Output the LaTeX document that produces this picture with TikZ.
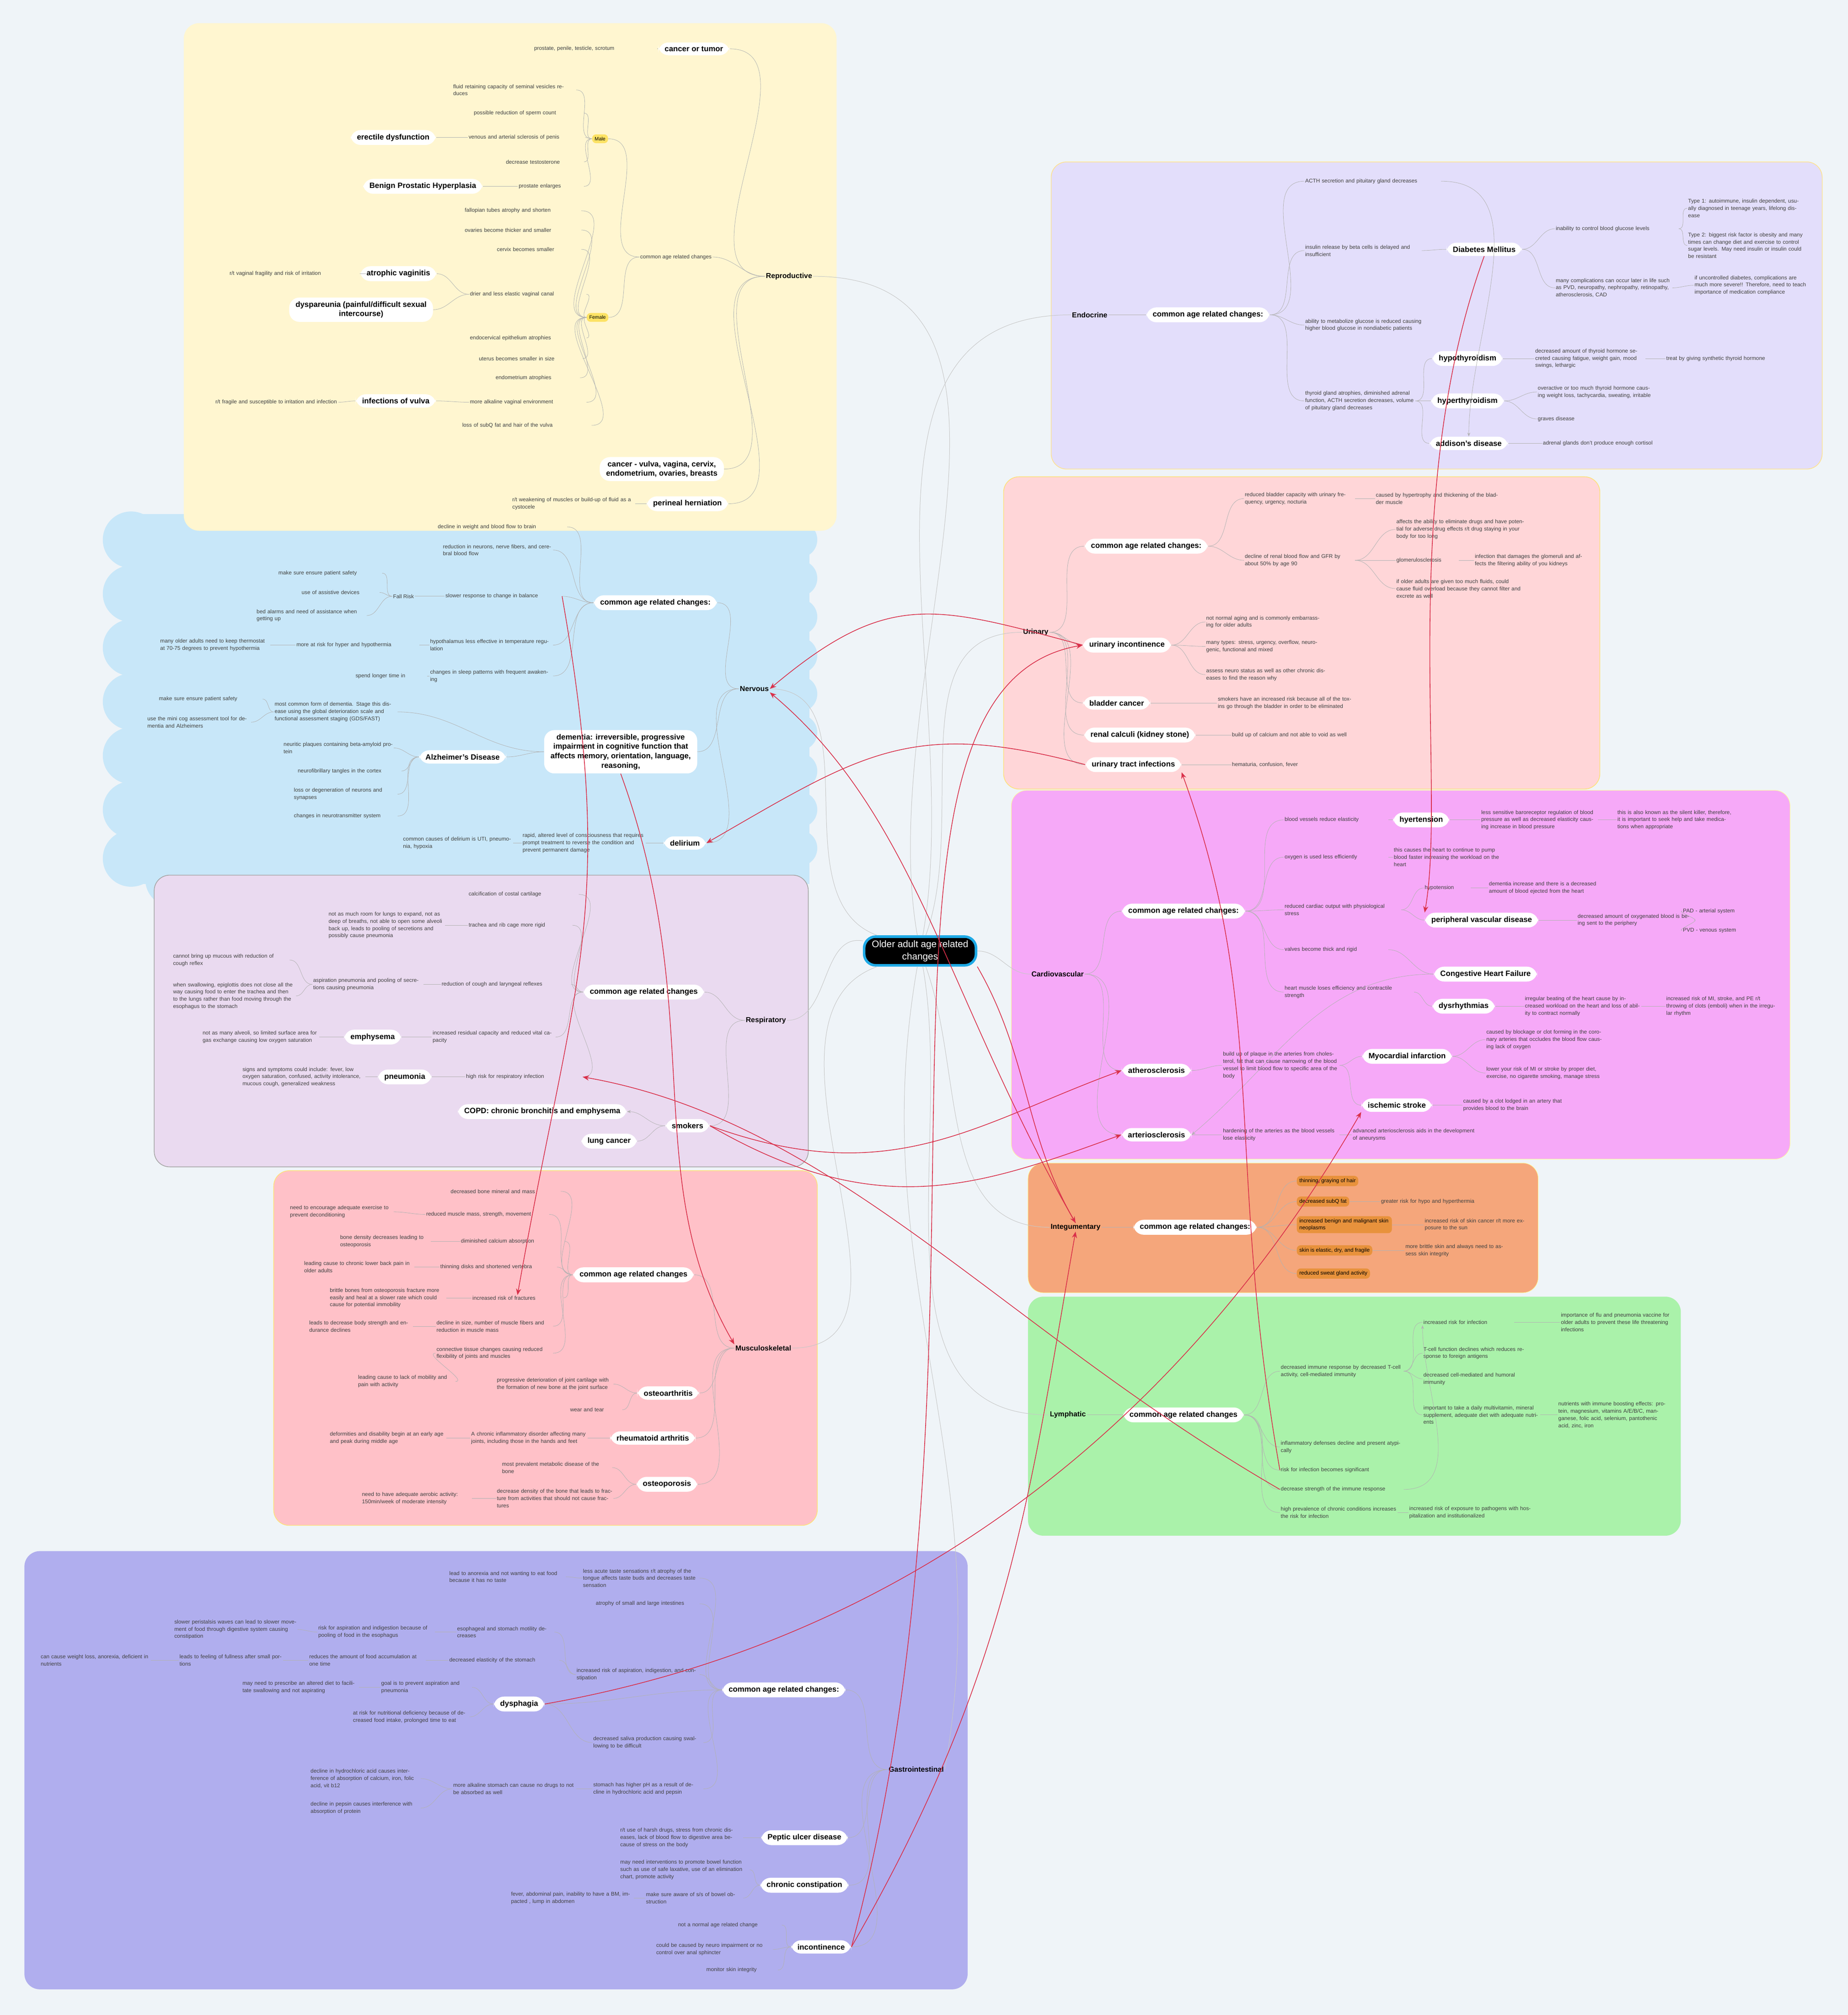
\documentclass[tikz,border=0pt]{standalone}
\usepackage{fontspec}
\setmainfont{Liberation Sans}
\usetikzlibrary{arrows.meta}
\definecolor{bg}{HTML}{EFF4F8}
\definecolor{repro}{HTML}{FFF6D0}
\definecolor{endo}{HTML}{E3DEFB}
\definecolor{uri}{HTML}{FFD6D8}
\definecolor{nerv}{HTML}{C8E7F9}
\definecolor{cardio}{HTML}{F6A9F8}
\definecolor{resp}{HTML}{EADAF0}
\definecolor{integ}{HTML}{F5A67B}
\definecolor{musc}{HTML}{FFC1C8}
\definecolor{lymph}{HTML}{AAF2AA}
\definecolor{gi}{HTML}{B0AEEE}
\definecolor{xred}{HTML}{D9304A}
\definecolor{orpill}{HTML}{E8923C}
\tikzset{
 leaf/.style={font=\fontsize{6}{8}\selectfont,text=black!75,align=left,inner sep=0.8pt},
 pill/.style={fill=white,rounded corners=4mm,font=\fontsize{8.5}{10.5}\selectfont\bfseries,inner xsep=2.5mm,inner ysep=1.5mm,align=center},
 sys/.style={font=\fontsize{8}{10}\selectfont\bfseries,inner sep=1pt},
 tree/.style={draw=black!30,line width=0.4pt},
 hub/.style={draw=black!22,line width=0.5pt},
 xlink/.style={draw=xred,line width=0.8pt,-{Stealth[length=2.5mm,width=2mm]}},
 ypill/.style={fill=yellow!70!orange!60,rounded corners=1.5mm,font=\fontsize{5.5}{6.5}\selectfont,inner sep=1mm},
 opill/.style={fill=orpill,rounded corners=1.5mm,font=\fontsize{6}{7.5}\selectfont,align=left,inner sep=1mm,anchor=west},
}
\newcommand\lfR[5]{\node[leaf,text width=\dimexpr #3mm/2\relax,anchor=west] (#1) at (#2) {#5}; \draw[tree] (#4.east) to[out=0,in=180] (#1.west);}
\newcommand\lfL[5]{\node[leaf,text width=\dimexpr #3mm/2\relax,anchor=west] (#1) at (#2) {#5}; \draw[tree] (#4.west) to[out=180,in=0] (#1.east);}
\begin{document}
\begin{tikzpicture}[x=0.5mm,y=-0.5mm]
\useasboundingbox (0,0) rectangle (1438,1568);
\fill[bg] (0,0) rectangle (1438,1568);
% regions
\fill[nerv] (100,400) rectangle (630,688);
\foreach \yy in {420,462,504,546,588,630,668} \fill[nerv] (102,\yy) circle (11mm);
\foreach \xx in {135,175,215,255,295,335,375,415,455,495,535,575,605} \fill[nerv] (\xx,684) circle (11mm);
\foreach \yy in {420,450,480,510,540,570,600,630,660} \fill[nerv] (622,\yy) circle (7mm);
\fill[repro,rounded corners=6mm] (143,18) rectangle (651,413);
\filldraw[fill=endo,draw=yellow!50!orange!40,line width=0.8pt,rounded corners=6mm] (818,126) rectangle (1418,365);
\filldraw[fill=uri,draw=yellow!60!orange!50,line width=0.8pt,rounded corners=6mm] (781,371) rectangle (1245,614);
\filldraw[fill=cardio,draw=yellow!40,line width=0.5pt,rounded corners=6mm] (787,615) rectangle (1393,902);
\filldraw[fill=resp,draw=black!35,line width=0.8pt,rounded corners=6mm] (120,681) rectangle (629,908);
\filldraw[fill=integ,draw=yellow!40,line width=0.5pt,rounded corners=6mm] (800,905) rectangle (1197,1006);
\filldraw[fill=musc,draw=yellow!60!orange!50,line width=0.8pt,rounded corners=6mm] (213,911) rectangle (636,1187);
\fill[lymph,rounded corners=6mm] (800,1009) rectangle (1308,1195);
\fill[gi,rounded corners=6mm] (19,1207) rectangle (753,1548);
% center
\node[fill=black,draw={rgb,255:red,30;green,170;blue,230},line width=1mm,rounded corners=4.5mm,text=white,font=\fontsize{10.5}{13.5}\selectfont,align=center,inner xsep=3mm,inner ysep=1.5mm] (center) at (716,740) {Older adult age related\\changes};
\node[sys] (repro) at (614,215) {Reproductive};
\node[sys] (endo) at (848,245) {Endocrine};
\node[sys] (uri) at (806,492) {Urinary};
\node[sys] (nerv) at (587,536) {Nervous};
\node[sys] (resp) at (596,794) {Respiratory};
\node[sys] (cardio) at (823,758) {Cardiovascular};
\node[sys] (integ) at (837,955) {Integumentary};
\node[sys] (musc) at (594,1049) {Musculoskeletal};
\node[sys] (lymph) at (831,1101) {Lymphatic};
\node[sys] (gi) at (713,1377) {Gastrointestinal};
\foreach \sa/\oa/\ia in {repro/100/0,nerv/160/0,resp/170/0,musc/200/0,gi/260/80}
  \draw[hub] (center) to[out=\oa,in=\ia] (\sa.east);
\foreach \sa/\oa/\ia in {endo/80/180,uri/70/180,cardio/0/180,integ/-70/180,lymph/-80/180}
  \draw[hub] (center) to[out=\oa,in=\ia] (\sa.west);
% ===== Reproductive
\node[pill] (rca) at (540,38) {cancer or tumor};
\draw[tree] (repro.west) to[out=180,in=0] (rca.east);
\lfL{rca1}{415,38}{95}{rca}{prostate, penile, testicle, scrotum}
\node[leaf] (rcac) at (526,200) {common age related changes};
\draw[tree] (repro.west) to[out=180,in=0] (rcac.east);
\node[ypill] (male) at (467,108) {Male};
\node[ypill] (female) at (465,247) {Female};
\draw[tree] (rcac.west) to[out=180,in=0] (male.east);
\draw[tree] (rcac.west) to[out=180,in=0] (female.east);
\lfL{m1}{352,70}{95}{male}{fluid retaining capacity of seminal vesicles reduces}
\lfL{m2}{368,88}{85}{male}{possible reduction of sperm count}
\lfL{m3}{364,107}{90}{male}{venous and arterial sclerosis of penis}
\lfL{m4}{393,126}{60}{male}{decrease testosterone}
\lfL{m5}{403,145}{50}{male}{prostate enlarges}
\node[pill] (ed) at (306,107) {erectile dysfunction};
\draw[tree] (m3.west) to[out=180,in=0] (ed.east);
\node[pill] (bph) at (329,145) {Benign Prostatic Hyperplasia};
\draw[tree] (m5.west) to[out=180,in=0] (bph.east);
\lfL{f1}{361,164}{90}{female}{fallopian tubes atrophy and shorten}
\lfL{f2}{361,179}{90}{female}{ovaries become thicker and smaller}
\lfL{f3}{386,194}{65}{female}{cervix becomes smaller}
\lfL{f4}{365,229}{90}{female}{drier and less elastic vaginal canal}
\lfL{f5}{365,263}{90}{female}{endocervical epithelium atrophies}
\lfL{f6}{372,279}{80}{female}{uterus becomes smaller in size}
\lfL{f7}{385,294}{65}{female}{endometrium atrophies}
\lfL{f8}{365,313}{90}{female}{more alkaline vaginal environment}
\lfL{f9}{359,331}{100}{female}{loss of subQ fat and hair of the vulva}
\node[pill] (av) at (310,213) {atrophic vaginitis};
\draw[tree] (f4.west) to[out=180,in=0] (av.east);
\lfL{av1}{178,213}{105}{av}{r/t vaginal fragility and risk of irritation}
\node[pill] (dys) at (281,241) {dyspareunia (painful/difficult sexual\\intercourse)};
\draw[tree] (f4.west) to[out=180,in=0] (dys.east);
\node[pill] (iv) at (308,312) {infections of vulva};
\draw[tree] (f8.west) to[out=180,in=0] (iv.east);
\lfL{iv1}{167,313}{95}{iv}{r/t fragile and susceptible to irritation and infection}
\node[pill] (rcan) at (515,365) {cancer - vulva, vagina, cervix,\\endometrium, ovaries, breasts};
\draw[tree] (repro.west) to[out=180,in=0] (rcan.east);
\node[pill] (ph) at (535,392) {perineal herniation};
\draw[tree] (repro.west) to[out=180,in=0] (ph.east);
\lfL{ph1}{398,392}{95}{ph}{r/t weakening of muscles or build-up of fluid as a cystocele}
% ===== Endocrine
\node[pill] (ecac) at (940,245) {common age related changes:};
\draw[tree] (endo.east) to[out=0,in=180] (ecac.west);
\lfR{e1}{1015,141}{105}{ecac}{ACTH secretion and pituitary gland decreases}
\lfR{e2}{1015,195}{90}{ecac}{insulin release by beta cells is delayed and insufficient}
\lfR{e3}{1015,253}{95}{ecac}{ability to metabolize glucose is reduced causing higher blood glucose in nondiabetic patients}
\lfR{e4}{1015,312}{85}{ecac}{thyroid gland atrophies, diminished adrenal function, ACTH secretion decreases, volume of pituitary gland decreases}
\node[pill] (dm) at (1155,194) {Diabetes Mellitus};
\draw[tree] (e2.east) to[out=0,in=180] (dm.west);
\node[pill] (hypo) at (1142,279) {hypothyroidism};
\node[pill] (hyper) at (1142,312) {hyperthyroidism};
\node[pill] (add) at (1143,345) {addison's disease};
\draw[tree] (e4.east) to[out=0,in=180] (hypo.west);
\draw[tree] (e4.east) to[out=0,in=180] (hyper.west);
\draw[tree] (e4.east) to[out=0,in=180] (add.west);
\draw[tree,-{Stealth[length=1.5mm]}] (e1.east) to[out=0,in=90] (add.north);
\lfR{dm1}{1210,178}{95}{dm}{inability to control blood glucose levels}
\lfR{dm2}{1210,224}{90}{dm}{many complications can occur later in life such as PVD, neuropathy, nephropathy, retinopathy, atherosclerosis, CAD}
\lfR{dm3}{1313,162}{90}{dm1}{Type 1: autoimmune, insulin dependent, usually diagnosed in teenage years, lifelong disease}
\lfR{dm4}{1313,191}{90}{dm1}{Type 2: biggest risk factor is obesity and many times can change diet and exercise to control sugar levels. May need insulin or insulin could be resistant}
\lfR{dm5}{1318,222}{90}{dm2}{if uncontrolled diabetes, complications are much more severe!! Therefore, need to teach importance of medication compliance}
\lfR{hy1}{1194,279}{85}{hypo}{decreased amount of thyroid hormone secreted causing fatigue, weight gain, mood swings, lethargic}
\lfR{hy2}{1296,279}{95}{hy1}{treat by giving synthetic thyroid hormone}
\lfR{hr1}{1196,305}{90}{hyper}{overactive or too much thyroid hormone causing weight loss, tachycardia, sweating, irritable}
\lfR{hr2}{1196,326}{40}{hyper}{graves disease}
\lfR{ad1}{1200,345}{90}{add}{adrenal glands don't produce enough cortisol}
% ===== Urinary
\node[pill] (ucac) at (892,425) {common age related changes:};
\node[pill] (uinc) at (877,502) {urinary incontinence};
\node[pill] (ubc) at (869,547) {bladder cancer};
\node[pill] (urc) at (887,572) {renal calculi (kidney stone)};
\node[pill] (uti) at (882,595) {urinary tract infections};
\foreach \n in {ucac,uinc,ubc,urc,uti} \draw[tree] (uri.east) to[out=0,in=180] (\n.west);
\lfR{u1}{968,388}{85}{ucac}{reduced bladder capacity with urinary frequency, urgency, nocturia}
\lfR{u2}{1070,388}{95}{u1}{caused by hypertrophy and thickening of the bladder muscle}
\lfR{u3}{968,436}{85}{ucac}{decline of renal blood flow and GFR by about 50\% by age 90}
\lfR{u4}{1086,412}{100}{u3}{affects the ability to eliminate drugs and have potential for adverse drug effects r/t drug staying in your body for too long}
\lfR{u5}{1086,436}{48}{u3}{glomerulosclerosis}
\lfR{u6}{1147,436}{90}{u5}{infection that damages the glomeruli and affects the filtering ability of you kidneys}
\lfR{u7}{1086,458}{100}{u3}{if older adults are given too much fluids, could cause fluid overload because they cannot filter and excrete as well}
\lfR{ui1}{938,484}{90}{uinc}{not normal aging and is commonly embarrassing for older adults}
\lfR{ui2}{938,503}{90}{uinc}{many types: stress, urgency, overflow, neurogenic, functional and mixed}
\lfR{ui3}{938,525}{100}{uinc}{assess neuro status as well as other chronic diseases to find the reason why}
\lfR{ub1}{947,547}{105}{ubc}{smokers have an increased risk because all of the toxins go through the bladder in order to be eliminated}
\lfR{ur1}{958,572}{95}{urc}{build up of calcium and not able to void as well}
\lfR{ut1}{958,595}{80}{uti}{hematuria, confusion, fever}
% ===== Nervous
\node[pill] (ncac) at (510,469) {common age related changes:};
\node[pill] (dem) at (483,585) {dementia: irreversible, progressive\\impairment in cognitive function that\\affects memory, orientation, language,\\reasoning,};
\node[pill] (del) at (533,656) {delirium};
\foreach \n in {ncac,dem,del} \draw[tree] (nerv.west) to[out=180,in=0] (\n.east);
\lfL{n1}{340,410}{100}{ncac}{decline in weight and blood flow to brain}
\lfL{n2}{344,428}{85}{ncac}{reduction in neurons, nerve fibers, and cerebral blood flow}
\lfL{n3}{346,464}{90}{ncac}{slower response to change in balance}
\lfL{n4}{334,502}{95}{ncac}{hypothalamus less effective in temperature regulation}
\lfL{n5}{334,526}{95}{ncac}{changes in sleep patterns with frequent awakening}
\node[leaf] (fall) at (314,464) {Fall Risk};
\draw[tree] (n3.west) -- (fall.east);
\lfL{fr1}{216,446}{80}{fall}{make sure ensure patient safety}
\lfL{fr2}{234,461}{60}{fall}{use of assistive devices}
\lfL{fr3}{199,479}{85}{fall}{bed alarms and need of assistance when getting up}
\lfL{n6}{230,502}{95}{n4}{more at risk for hyper and hypothermia}
\lfL{n7}{124,502}{85}{n6}{many older adults need to keep thermostat at 70-75 degrees to prevent hypothermia}
\lfL{n8}{276,526}{55}{n5}{spend longer time in}
\node[pill] (alz) at (360,589) {Alzheimer's Disease};
\draw[tree] (dem.west) to[out=180,in=0] (alz.east);
\lfL{dm6}{213,554}{95}{dem}{most common form of dementia. Stage this disease using the global deterioration scale and functional assessment staging (GDS/FAST)}
\lfL{dm7}{123,544}{80}{dm6}{make sure ensure patient safety}
\lfL{dm8}{114,562}{80}{dm6}{use the mini cog assessment tool for dementia and Alzheimers}
\lfL{al1}{220,582}{85}{alz}{neuritic plaques containing beta-amyloid protein}
\lfL{al2}{231,600}{80}{alz}{neurofibrillary tangles in the cortex}
\lfL{al3}{228,618}{80}{alz}{loss or degeneration of neurons and synapses}
\lfL{al4}{228,635}{80}{alz}{changes in neurotransmitter system}
\lfL{de1}{406,656}{95}{del}{rapid, altered level of consciousness that requires prompt treatment to reverse the condition and prevent permanent damage}
\lfL{de2}{313,656}{85}{de1}{common causes of delirium is UTI, pneumonia, hypoxia}
% ===== Respiratory
\node[pill] (rscac) at (501,772) {common age related changes};
\node[pill] (emph) at (290,807) {emphysema};
\node[pill] (pneu) at (315,838) {pneumonia};
\node[pill] (copd) at (422,865) {COPD: chronic bronchitis and emphysema};
\node[pill] (smk) at (535,876) {smokers};
\node[pill] (lc) at (474,888) {lung cancer};
\draw[tree] (resp.west) to[out=180,in=0] (rscac.east);
\draw[tree] (resp.west) to[out=180,in=0] (smk.east);
\draw[tree] (smk.west) to[out=180,in=0] (lc.east);
\draw[tree,-{Stealth[length=1.5mm]}] (smk.west) to[out=180,in=0] (copd.east);
\lfL{r1}{364,696}{85}{rscac}{calcification of costal cartilage}
\lfL{r2}{364,720}{80}{rscac}{trachea and rib cage more rigid}
\lfL{r3}{255,720}{90}{r2}{not as much room for lungs to expand, not as deep of breaths, not able to open some alveoli back up, leads to pooling of secretions and possibly cause pneumonia}
\lfL{r4}{343,766}{100}{rscac}{reduction of cough and laryngeal reflexes}
\lfL{r5}{243,766}{85}{r4}{aspiration pneumonia and pooling of secretions causing pneumonia}
\lfL{r6}{134,747}{90}{r5}{cannot bring up mucous with reduction of cough reflex}
\lfL{r7}{134,775}{95}{r5}{when swallowing, epiglottis does not close all the way causing food to enter the trachea and then to the lungs rather than food moving through the esophagus to the stomach}
\lfL{r8}{336,807}{95}{rscac}{increased residual capacity and reduced vital capacity}
\draw[tree] (r8.west) -- (emph.east);
\lfL{r9}{157,807}{90}{emph}{not as many alveoli, so limited surface area for gas exchange causing low oxygen saturation}
\lfL{r10}{362,838}{90}{rscac}{high risk for respiratory infection}
\draw[tree] (r10.west) -- (pneu.east);
\lfL{r11}{188,838}{95}{pneu}{signs and symptoms could include: fever, low oxygen saturation, confused, activity intolerance, mucous cough, generalized weakness}
% ===== Cardiovascular
\node[pill] (ccac) at (921,709) {common age related changes:};
\node[pill] (ath) at (900,833) {atherosclerosis};
\node[pill] (art) at (900,883) {arteriosclerosis};
\foreach \n in {ccac,ath,art} \draw[tree] (cardio.east) to[out=0,in=180] (\n.west);
\lfR{c1}{999,638}{80}{ccac}{blood vessels reduce elasticity}
\lfR{c2}{999,667}{80}{ccac}{oxygen is used less efficiently}
\lfR{c3}{999,708}{90}{ccac}{reduced cardiac output with physiological stress}
\lfR{c4}{999,739}{80}{ccac}{valves become thick and rigid}
\lfR{c5}{999,772}{100}{ccac}{heart muscle loses efficiency and contractile strength}
\node[pill] (htn) at (1106,638) {hyertension};
\draw[tree] (c1.east) -- (htn.west);
\lfR{h1}{1152,638}{90}{htn}{less sensitive baroreceptor regulation of blood pressure as well as decreased elasticity causing increase in blood pressure}
\lfR{h2}{1258,638}{90}{h1}{this is also known as the silent killer, therefore, it is important to seek help and take medications when appropriate}
\lfR{c6}{1084,667}{90}{c2}{this causes the heart to continue to pump blood faster increasing the workload on the heart}
\node[pill] (pvd) at (1153,716) {peripheral vascular disease};
\draw[tree] (c3.east) to[out=0,in=180] (pvd.west);
\lfR{pv0}{1108,691}{35}{c3}{hypotension}
\lfR{pv1}{1158,691}{90}{pv0}{dementia increase and there is a decreased amount of blood ejected from the heart}
\lfR{pv2}{1227,716}{90}{pvd}{decreased amount of oxygenated blood is being sent to the periphery}
\lfR{pv3}{1309,709}{60}{pv2}{PAD - arterial system}
\lfR{pv4}{1309,724}{60}{pv2}{PVD - venous system}
\node[pill] (chf) at (1156,758) {Congestive Heart Failure};
\draw[tree] (c4.east) to[out=0,in=180] (chf.west);
\node[pill] (dysr) at (1139,783) {dysrhythmias};
\draw[tree] (c5.east) to[out=0,in=180] (dysr.west);
\lfR{dy1}{1186,783}{90}{dysr}{irregular beating of the heart cause by increased workload on the heart and loss of ability to contract normally}
\lfR{dy2}{1296,783}{85}{dy1}{increased risk of MI, stroke, and PE r/t throwing of clots (emboli) when in the irregular rhythm}
\lfR{at1}{951,829}{90}{ath}{build up of plaque in the arteries from cholesterol, fat that can cause narrowing of the blood vessel to limit blood flow to specific area of the body}
\node[pill] (mi) at (1095,822) {Myocardial infarction};
\node[pill] (isc) at (1087,860) {ischemic stroke};
\draw[tree] (at1.east) to[out=0,in=180] (mi.west);
\draw[tree] (at1.east) to[out=0,in=180] (isc.west);
\lfR{mi1}{1156,809}{90}{mi}{caused by blockage or clot forming in the coronary arteries that occludes the blood flow causing lack of oxygen}
\lfR{mi2}{1156,835}{90}{mi}{lower your risk of MI or stroke by proper diet, exercise, no cigarette smoking, manage stress}
\lfR{is1}{1138,860}{85}{isc}{caused by a clot lodged in an artery that provides blood to the brain}
\lfR{ar1}{951,883}{90}{art}{hardening of the arteries as the blood vessels lose elasticity}
\lfR{ar2}{1052,883}{95}{ar1}{advanced arteriosclerosis aids in the development of aneurysms}
\draw[tree,-{Stealth[length=1.5mm]}] (chf.west) to[out=180,in=40] (art.east);
% ===== Integumentary
\node[pill] (icac) at (930,955) {common age related changes:};
\draw[tree] (integ.east) -- (icac.west);
\foreach \n/\yy/\t in {ip1/919/{thinning, graying of hair},ip2/935/{decreased subQ fat},ip4/973/{skin is elastic, dry, and fragile},ip5/991/{reduced sweat gland activity}}{
 \node[opill] (\n) at (1009,\yy) {\t};
 \draw[tree] (icac.east) to[out=0,in=180] (\n.west);}
\node[opill,text width=35mm] (ip3) at (1009,953) {increased benign and malignant skin neoplasms};
\draw[tree] (icac.east) to[out=0,in=180] (ip3.west);
\lfR{ii1}{1074,935}{90}{ip2}{greater risk for hypo and hyperthermia}
\lfR{ii2}{1108,953}{80}{ip3}{increased risk of skin cancer r/t more exposure to the sun}
\lfR{ii3}{1093,973}{80}{ip4}{more brittle skin and always need to assess skin integrity}
% ===== Lymphatic
\node[pill] (lcac) at (921,1101) {common age related changes};
\draw[tree] (lymph.east) -- (lcac.west);
\lfR{l1}{996,1067}{95}{lcac}{decreased immune response by decreased T-cell activity, cell-mediated immunity}
\lfR{l2}{996,1126}{95}{lcac}{inflammatory defenses decline and present atypically}
\lfR{l3}{996,1144}{85}{lcac}{risk for infection becomes significant}
\lfR{l4}{996,1159}{95}{lcac}{decrease strength of the immune response}
\lfR{l5}{996,1177}{90}{lcac}{high prevalence of chronic conditions increases the risk for infection}
\lfR{l6}{1107,1029}{70}{l1}{increased risk for infection}
\lfR{l7}{1107,1053}{85}{l1}{T-cell function declines which reduces response to foreign antigens}
\lfR{l8}{1107,1073}{75}{l1}{decreased cell-mediated and humoral immunity}
\lfR{l9}{1107,1101}{90}{l1}{important to take a daily multivitamin, mineral supplement, adequate diet with adequate nutrients}
\lfR{l10}{1214,1029}{85}{l6}{importance of flu and pneumonia vaccine for older adults to prevent these life threatening infections}
\lfR{l11}{1212,1101}{85}{l9}{nutrients with immune boosting effects: protein, magnesium, vitamins A/E/B/C, manganese, folic acid, selenium, pantothenic acid, zinc, iron}
\lfR{l12}{1096,1177}{95}{l5}{increased risk of exposure to pathogens with hospitalization and institutionalized}
\draw[tree,-{Stealth[length=1.5mm]}] (l4.east) to[out=0,in=-90] (l6.south west);
% ===== Musculoskeletal
\node[pill] (mcac) at (493,992) {common age related changes};
\node[pill] (oa) at (520,1084) {osteoarthritis};
\node[pill] (ra) at (508,1119) {rheumatoid arthritis};
\node[pill] (op) at (519,1155) {osteoporosis};
\foreach \n in {mcac,oa,ra,op} \draw[tree] (musc.west) to[out=180,in=0] (\n.east);
\lfL{ms1}{350,927}{85}{mcac}{decreased bone mineral and mass}
\lfL{ms2}{331,945}{95}{mcac}{reduced muscle mass, strength, movement}
\lfL{ms3}{358,966}{80}{mcac}{diminished calcium absorption}
\lfL{ms4}{342,986}{90}{mcac}{thinning disks and shortened vertebra}
\lfL{ms5}{367,1010}{70}{mcac}{increased risk of fractures}
\lfL{ms6}{339,1032}{90}{mcac}{decline in size, number of muscle fibers and reduction in muscle mass}
\lfL{ms7}{339,1053}{90}{mcac}{connective tissue changes causing reduced flexibility of joints and muscles}
\lfL{ms8}{225,943}{80}{ms2}{need to encourage adequate exercise to prevent deconditioning}
\lfL{ms9}{264,966}{70}{ms3}{bone density decreases leading to osteoporosis}
\lfL{ms10}{236,986}{85}{ms4}{leading cause to chronic lower back pain in older adults}
\lfL{ms11}{256,1010}{90}{ms5}{brittle bones from osteoporosis fracture more easily and heal at a slower rate which could cause for potential immobility}
\lfL{ms12}{240,1032}{80}{ms6}{leads to decrease body strength and endurance declines}
\lfL{ms13}{278,1075}{75}{ms7}{leading cause to lack of mobility and pain with activity}
\lfL{oa1}{386,1077}{90}{oa}{progressive deterioration of joint cartilage with the formation of new bone at the joint surface}
\lfL{oa2}{443,1097}{40}{oa}{wear and tear}
\lfL{ra1}{366,1119}{90}{ra}{A chronic inflammatory disorder affecting many joints, including those in the hands and feet}
\lfL{ra2}{256,1119}{90}{ra1}{deformities and disability begin at an early age and peak during middle age}
\lfL{op1}{390,1142}{85}{op}{most prevalent metabolic disease of the bone}
\lfL{op2}{386,1166}{90}{op}{decrease density of the bone that leads to fracture from activities that should not cause fractures}
\lfL{op3}{281,1166}{85}{op2}{need to have adequate aerobic activity: 150min/week of moderate intensity}
% ===== Gastrointestinal
\node[pill] (gcac) at (610,1315) {common age related changes:};
\node[pill] (pud) at (626,1430) {Peptic ulcer disease};
\node[pill] (cc) at (626,1467) {chronic constipation};
\node[pill] (ginc) at (639,1515) {incontinence};
\foreach \n in {gcac,pud,cc,ginc} \draw[tree] (gi.west) to[out=180,in=0] (\n.east);
\lfL{g1}{453,1228}{90}{gcac}{less acute taste sensations r/t atrophy of the tongue affects taste buds and decreases taste sensation}
\lfL{g2}{349,1227}{90}{g1}{lead to anorexia and not wanting to eat food because it has no taste}
\lfL{g3}{463,1248}{80}{gcac}{atrophy of small and large intestines}
\lfL{g4}{448,1303}{95}{gcac}{increased risk of aspiration, indigestion, and constipation}
\lfL{g5}{355,1270}{75}{g4}{esophageal and stomach motility decreases}
\lfL{g6}{349,1292}{85}{g4}{decreased elasticity of the stomach}
\lfL{g7}{247,1270}{90}{g5}{risk for aspiration and indigestion because of pooling of food in the esophagus}
\lfL{g8}{135,1268}{95}{g7}{slower peristalsis waves can lead to slower movement of food through digestive system causing constipation}
\lfL{g9}{240,1292}{90}{g6}{reduces the amount of food accumulation at one time}
\lfL{g10}{139,1292}{80}{g9}{leads to feeling of fullness after small portions}
\lfL{g11}{31,1292}{85}{g10}{can cause weight loss, anorexia, deficient in nutrients}
\node[pill] (dph) at (404,1326) {dysphagia};
\draw[tree] (gcac.west) to[out=180,in=0] (dph.east);
\lfL{g12}{461,1356}{85}{gcac}{decreased saliva production causing swallowing to be difficult}
\draw[tree] (g12.west) to[out=180,in=0] (dph.east);
\lfL{g13}{296,1313}{70}{dph}{goal is to prevent aspiration and pneumonia}
\lfL{g14}{188,1313}{90}{g13}{may need to prescribe an altered diet to facilitate swallowing and not aspirating}
\lfL{g15}{274,1336}{90}{dph}{at risk for nutritional deficiency because of decreased food intake, prolonged time to eat}
\lfL{g16}{461,1392}{85}{gcac}{stomach has higher pH as a result of decline in hydrochloric acid and pepsin}
\lfL{g17}{352,1392}{95}{g16}{more alkaline stomach can cause no drugs to not be absorbed as well}
\lfL{g18}{241,1384}{85}{g17}{decline in hydrochloric acid causes interference of absorption of calcium, iron, folic acid, vit b12}
\lfL{g19}{241,1407}{85}{g17}{decline in pepsin causes interference with absorption of protein}
\lfL{p1}{482,1430}{95}{pud}{r/t use of harsh drugs, stress from chronic diseases, lack of blood flow to digestive area because of stress on the body}
\lfL{cc1}{482,1455}{100}{cc}{may need interventions to promote bowel function such as use of safe laxative, use of an elimination chart, promote activity}
\lfL{cc2}{502,1477}{75}{cc}{make sure aware of s/s of bowel obstruction}
\lfL{cc3}{397,1477}{95}{cc2}{fever, abdominal pain, inability to have a BM, impacted , lump in abdomen}
\lfL{gi1}{527,1498}{80}{ginc}{not a normal age related change}
\lfL{gi2}{510,1517}{90}{ginc}{could be caused by neuro impairment or no control over anal sphincter}
\lfL{gi3}{549,1533}{55}{ginc}{monitor skin integrity}
% ===== cross links (angles measured with y pointing down)
\draw[xlink] (uinc.west) .. controls +(-165:120) and +(-40:120) .. (nerv.east);
\draw[xlink] (uti.west) .. controls +(-165:140) and +(-30:140) .. (del.east);
\draw[xlink] (integ.north) .. controls +(-120:200) and +(40:150) .. (nerv.south east);
\draw[xlink] (center.south east) .. controls +(60:80) and +(-120:80) .. (integ.north);
\draw[xlink] (dm.south) .. controls +(110:200) and +(-80:100) .. (pvd.north west);
\draw[xlink] (smk.east) .. controls +(20:150) and +(-200:120) .. (ath.west);
\draw[xlink] (smk.east) .. controls +(30:150) and +(-200:120) .. (art.west);
\draw[xlink] (l4.west) .. controls +(-150:250) and +(10:200) .. (r10.east);
\draw[xlink] (l3.west) .. controls +(-100:250) and +(70:200) .. (uti.south east);
\draw[xlink] (dph.east) .. controls +(-10:350) and +(120:200) .. (isc.south west);
\draw[xlink] (ginc.east) .. controls +(-60:250) and +(100:200) .. (integ.south);
\draw[xlink] (ginc.east) .. controls +(-75:500) and +(-190:200) .. (uinc.west);
\draw[xlink] (n3.east) .. controls +(80:250) and +(-80:250) .. (ms5.north);
\draw[xlink] (dem.south) .. controls +(70:200) and +(-120:150) .. (musc.north west);
\end{tikzpicture}
\end{document}
